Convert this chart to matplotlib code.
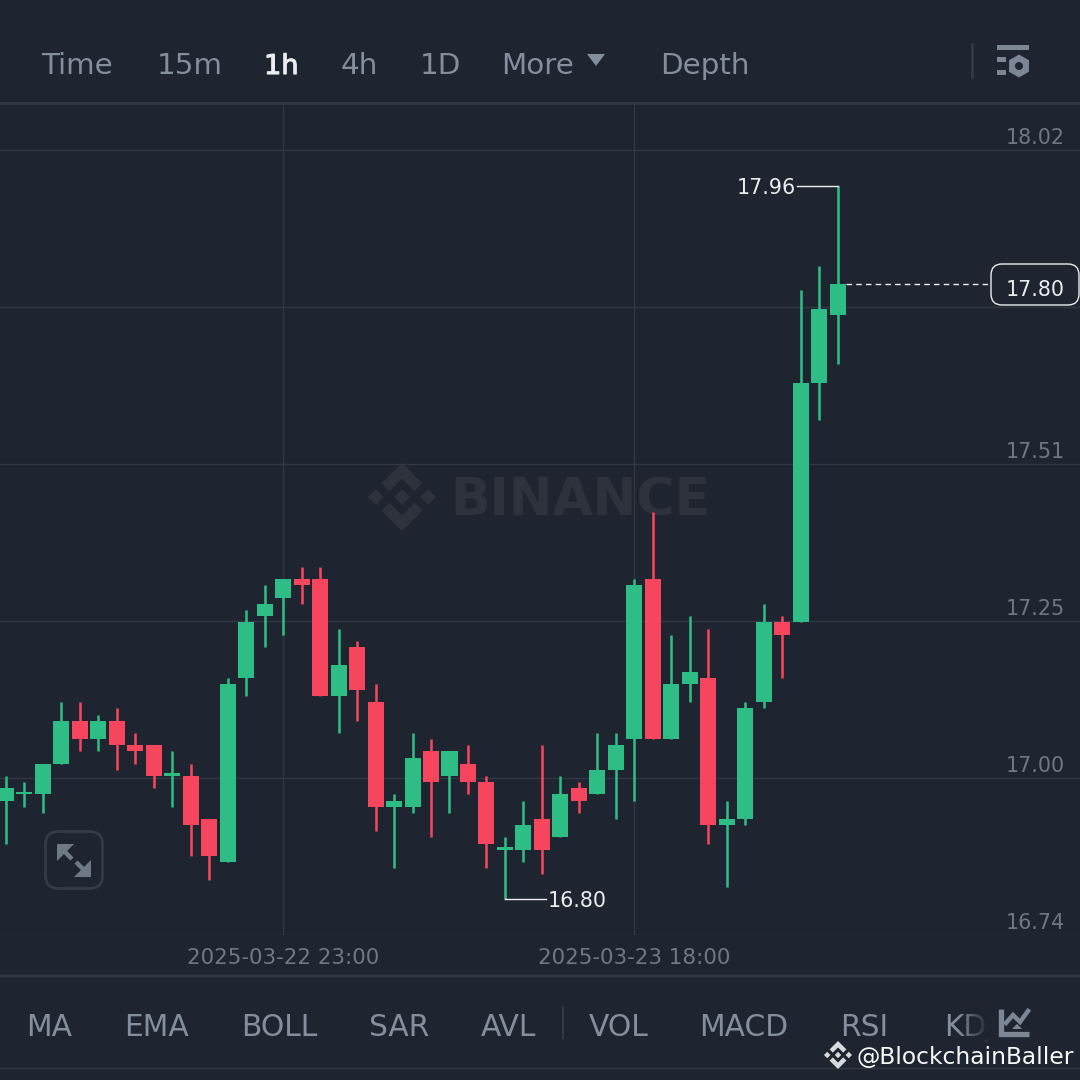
#!/usr/bin/env python3
"""Candlestick screen from a mobile exchange app, 1h candles."""

import numpy as np
import matplotlib
matplotlib.use("Agg")
import matplotlib.pyplot as plt
import matplotlib.patheffects as pe
from matplotlib.patches import Circle, FancyBboxPatch, Polygon, Rectangle
from matplotlib.transforms import ScaledTranslation

# candle values
candle_open = [16.96, 16.97, 16.97, 17.02, 17.09, 17.06, 17.09, 17.05, 17.05, 17.00,
               17.00, 16.93, 16.86, 17.16, 17.26, 17.29, 17.32, 17.32, 17.13, 17.21,
               17.12, 16.95, 16.95, 17.04, 17.00, 17.02, 16.99, 16.88, 16.88, 16.93,
               16.90, 16.98, 16.97, 17.01, 17.06, 17.32, 17.06, 17.15, 17.16, 16.92,
               16.93, 17.12, 17.25, 17.25, 17.64, 17.75]
candle_close = [16.98, 16.97, 17.02, 17.09, 17.06, 17.09, 17.05, 17.04, 17.00, 17.00,
                16.92, 16.87, 17.15, 17.25, 17.28, 17.32, 17.31, 17.13, 17.18, 17.14,
                16.95, 16.96, 17.03, 16.99, 17.04, 16.99, 16.89, 16.88, 16.92, 16.88,
                16.97, 16.96, 17.01, 17.05, 17.31, 17.06, 17.15, 17.17, 16.92, 16.93,
                17.11, 17.25, 17.23, 17.64, 17.76, 17.80]
candle_high = [17.00, 16.99, 17.02, 17.12, 17.12, 17.10, 17.11, 17.07, 17.05, 17.04,
               17.02, 16.93, 17.16, 17.27, 17.31, 17.32, 17.34, 17.34, 17.24, 17.22,
               17.15, 16.97, 17.07, 17.06, 17.04, 17.05, 17.00, 16.90, 16.96, 17.05,
               17.00, 16.99, 17.07, 17.07, 17.32, 17.43, 17.23, 17.26, 17.24, 16.96,
               17.12, 17.28, 17.26, 17.79, 17.83, 17.96]
candle_low = [16.89, 16.95, 16.94, 17.02, 17.04, 17.04, 17.01, 17.02, 16.98, 16.95,
              16.87, 16.83, 16.86, 17.13, 17.21, 17.23, 17.28, 17.13, 17.07, 17.09,
              16.91, 16.85, 16.94, 16.90, 16.94, 16.97, 16.85, 16.80, 16.86, 16.84,
              16.90, 16.94, 16.97, 16.93, 16.96, 17.06, 17.06, 17.12, 16.89, 16.82,
              16.92, 17.11, 17.16, 17.25, 17.58, 17.67]

price_grid = [18.0186, 17.763, 17.5077, 17.2522, 16.9967, 16.7413]
price_labels = ["18.02", "", "17.51", "17.25", "17.00", "16.74"]
time_ticks = [15, 34]
time_labels = ["2025-03-22 23:00", "2025-03-23 18:00"]

top_tabs = ["Time", "15m", "1h", "4h", "1D", "More", "Depth"]
bottom_tabs = ["MA", "EMA", "BOLL", "SAR", "AVL", "VOL", "MACD", "RSI", "KDJ"]

BG = "#1f2530"
GREEN = "#2ebd85"
RED = "#f6465d"
GRID = "#323843"
MUTED = "#6f7885"
TAB = "#848e9c"
ICON = "#7d8694"
WHITE = "#eaecef"

plt.rcParams["font.family"] = ["DejaVu Sans"]

fig = plt.figure(figsize=(10.8, 10.8), dpi=100, facecolor=BG)


def pixel_axes(zorder):
    """Full figure axes in image pixels, for the app chrome."""
    a = fig.add_axes([0, 0, 1, 1], zorder=zorder)
    a.set_xlim(0, 1080)
    a.set_ylim(1080, 0)
    a.axis("off")
    a.patch.set_visible(False)
    return a


def binance_logo(a, cx, cy, r, color, zorder=2):
    small = 0.23
    shapes = [
        [(0, -small), (small, 0), (0, small), (-small, 0)],
        [(-0.77 - small, 0), (-0.77, -small), (-0.77 + small, 0), (-0.77, small)],
        [(0.77 - small, 0), (0.77, -small), (0.77 + small, 0), (0.77, small)],
        [(0, -1), (0.6, -0.4), (0.37, -0.17), (0, -0.54), (-0.37, -0.17), (-0.6, -0.4)],
        [(0, 1), (0.6, 0.4), (0.37, 0.17), (0, 0.54), (-0.37, 0.17), (-0.6, 0.4)],
    ]
    for s in shapes:
        a.add_patch(Polygon([(cx + x * r, cy + y * r) for x, y in s], closed=True,
                            fc=color, ec="none", zorder=zorder))


# watermark sits behind the candles
back = pixel_axes(0)
binance_logo(back, 402, 497, 34, "#2d323d")
back.text(450, 516, "BINANCE", fontsize=37.5, fontweight="bold", color="#2d323d",
          ha="left", va="baseline")

# candles
ax = fig.add_axes([0, 145 / 1080, 1, 830 / 1080], zorder=1)
ax.patch.set_visible(False)
ax.set_xlim(-0.325, 58.12)
ax.set_ylim(16.7413, 18.0918)
for side in ax.spines.values():
    side.set_visible(False)
ax.set_axisbelow(True)
ax.grid(True, color=GRID, linewidth=1.0)

ax.set_xticks(time_ticks, labels=time_labels)
ax.tick_params(axis="x", length=0, pad=9.2, labelsize=15.4, labelcolor=MUTED)
ax.yaxis.tick_right()
ax.set_yticks(price_grid, labels=price_labels)
ax.tick_params(axis="y", length=0, pad=-53.3, labelsize=14.9, labelcolor=MUTED)
lift = ScaledTranslation(0, 2 / 100, fig.dpi_scale_trans)
for lab in ax.get_yticklabels():
    lab.set_verticalalignment("bottom")
    lab.set_transform(lab.get_transform() + lift)

xs = np.arange(len(candle_open))
opens = np.array(candle_open)
closes = np.array(candle_close)
colors = [GREEN if c >= o else RED for o, c in zip(opens, closes)]
body_low = np.minimum(opens, closes)
# flat candles still get a thin visible body
body_height = np.maximum(np.abs(closes - opens), 0.0042)

ax.vlines(xs, candle_low, candle_high, colors=colors, linewidth=1.85, zorder=3,
          capstyle="butt")
ax.bar(xs, body_height, bottom=body_low, width=0.867, color=colors, linewidth=0, zorder=4)

# high / low / last markers
hi = int(np.argmax(candle_high))
lo = int(np.argmin(candle_low))
ax.plot([hi, hi - 2.2], [candle_high[hi]] * 2, color=WHITE, lw=1.0, zorder=5)
ax.annotate(f"{candle_high[hi]:.2f}", (hi - 2.25, candle_high[hi]), xytext=(0, -1.5),
            textcoords="offset points", color=WHITE, fontsize=14.9, ha="right",
            va="center", zorder=5)
ax.plot([lo, lo + 2.2], [candle_low[lo]] * 2, color=WHITE, lw=1.0, zorder=5)
ax.annotate(f"{candle_low[lo]:.2f}", (lo + 2.3, candle_low[lo]), xytext=(0, -1.5),
            textcoords="offset points", color=WHITE, fontsize=14.9, ha="left",
            va="center", zorder=5)
ax.plot([len(xs) - 0.55, 53.4], [candle_close[-1]] * 2, color=WHITE, lw=1.0,
        dashes=(4, 3), zorder=5)

# chrome on top
ui = pixel_axes(2)
ui.plot([0, 1080], [103, 103], color=GRID, lw=2)
ui.plot([0, 1080], [976, 976], color=GRID, lw=1.5)
ui.plot([0, 1080], [1068, 1068], color=GRID, lw=1)

top_x = [41, 157, 264, 341, 420, 501, 660]
for name, x in zip(top_tabs, top_x):
    if name == "1h":
        # medium weight, between the regular and bold faces
        ui.text(x, 74, name, fontsize=19.6, color=WHITE, ha="left", va="baseline",
                path_effects=[pe.withStroke(linewidth=0.8, foreground=WHITE)])
    else:
        ui.text(x, 74, name, fontsize=21.2, color=TAB, ha="left", va="baseline")
ui.add_patch(Polygon([(587, 54), (605, 54), (596, 66)], closed=True, fc=TAB, ec="none"))

bottom_x = [26, 124, 241, 369, 481, 589, 699, 840, 944]
for name, x in zip(bottom_tabs, bottom_x):
    ui.text(x, 1036, name, fontsize=21.4, color=TAB, ha="left", va="baseline")

# last tab fades out under the chart icon
fade = np.zeros((1, 64, 4))
fade[..., :3] = matplotlib.colors.to_rgb(BG)
fade[..., 3] = np.linspace(0, 1, 64)
ui.imshow(fade, extent=[958, 990, 1045, 1005], aspect="auto", zorder=3)
ui.add_patch(Rectangle((990, 1005), 50, 40, fc=BG, ec="none", zorder=3))
ui.set_xlim(0, 1080)
ui.set_ylim(1080, 0)

ui.plot([972, 972], [44, 77], color="#333945", lw=2)
ui.plot([563, 563], [1007, 1038], color="#333945", lw=1.5)

# settings icon
ui.add_patch(Rectangle((997, 44.5), 32, 5.5, fc=ICON, ec="none"))
ui.add_patch(Rectangle((997, 57), 9, 5, fc=ICON, ec="none"))
ui.add_patch(Rectangle((997, 69.5), 9, 5, fc=ICON, ec="none"))
angles = np.deg2rad(np.arange(30, 390, 60))
ui.add_patch(Polygon(np.c_[1019 + 11.5 * np.cos(angles), 66 + 11.5 * np.sin(angles)],
                     closed=True, fc=ICON, ec="none"))
ui.add_patch(Circle((1019, 66), 4, fc=BG, ec="none"))

# expand button
ui.add_patch(FancyBboxPatch((56, 842), 36, 36, boxstyle="round,pad=10.5,rounding_size=13",
                            fc="none", ec="#343a46", lw=2))
ui.add_patch(Polygon([(57, 844), (74, 844), (57, 861)], closed=True, fc=MUTED, ec="none"))
ui.add_patch(Polygon([(91, 877), (74, 877), (91, 860)], closed=True, fc=MUTED, ec="none"))
ui.plot([63, 72], [850, 859], color=MUTED, lw=3.2, solid_capstyle="butt")
ui.plot([76, 85], [862, 871], color=MUTED, lw=3.2, solid_capstyle="butt")

# indicator icon
ui.plot([1001, 1001, 1029], [1009, 1034, 1034], color=ICON, lw=3.8, solid_joinstyle="miter",
        solid_capstyle="butt", zorder=4)
ui.plot([1006, 1013, 1020, 1028], [1023, 1015, 1022, 1011], color=ICON, lw=3.2,
        solid_joinstyle="miter", zorder=4)
ui.add_patch(Polygon([(1012, 1029), (1022, 1029), (1017, 1024)], closed=True, fc=ICON,
                     ec="none", zorder=4))

# current price tag
ui.add_patch(FancyBboxPatch((1001, 274), 68, 21, boxstyle="round,pad=10,rounding_size=11",
                            fc=BG, ec=WHITE, lw=1.0, zorder=4))
ui.text(1006, 290, "17.80", fontsize=14.9, color=WHITE, ha="left", va="center", zorder=5)

# share footer
binance_logo(ui, 838, 1055, 14, "#d8dadd", zorder=5)
ui.text(856, 1064, "@BlockchainBaller", fontsize=16.8, color="#f7f8f9", ha="left",
        va="baseline", zorder=5)

fig.savefig("out.png", dpi=100, facecolor=BG)
